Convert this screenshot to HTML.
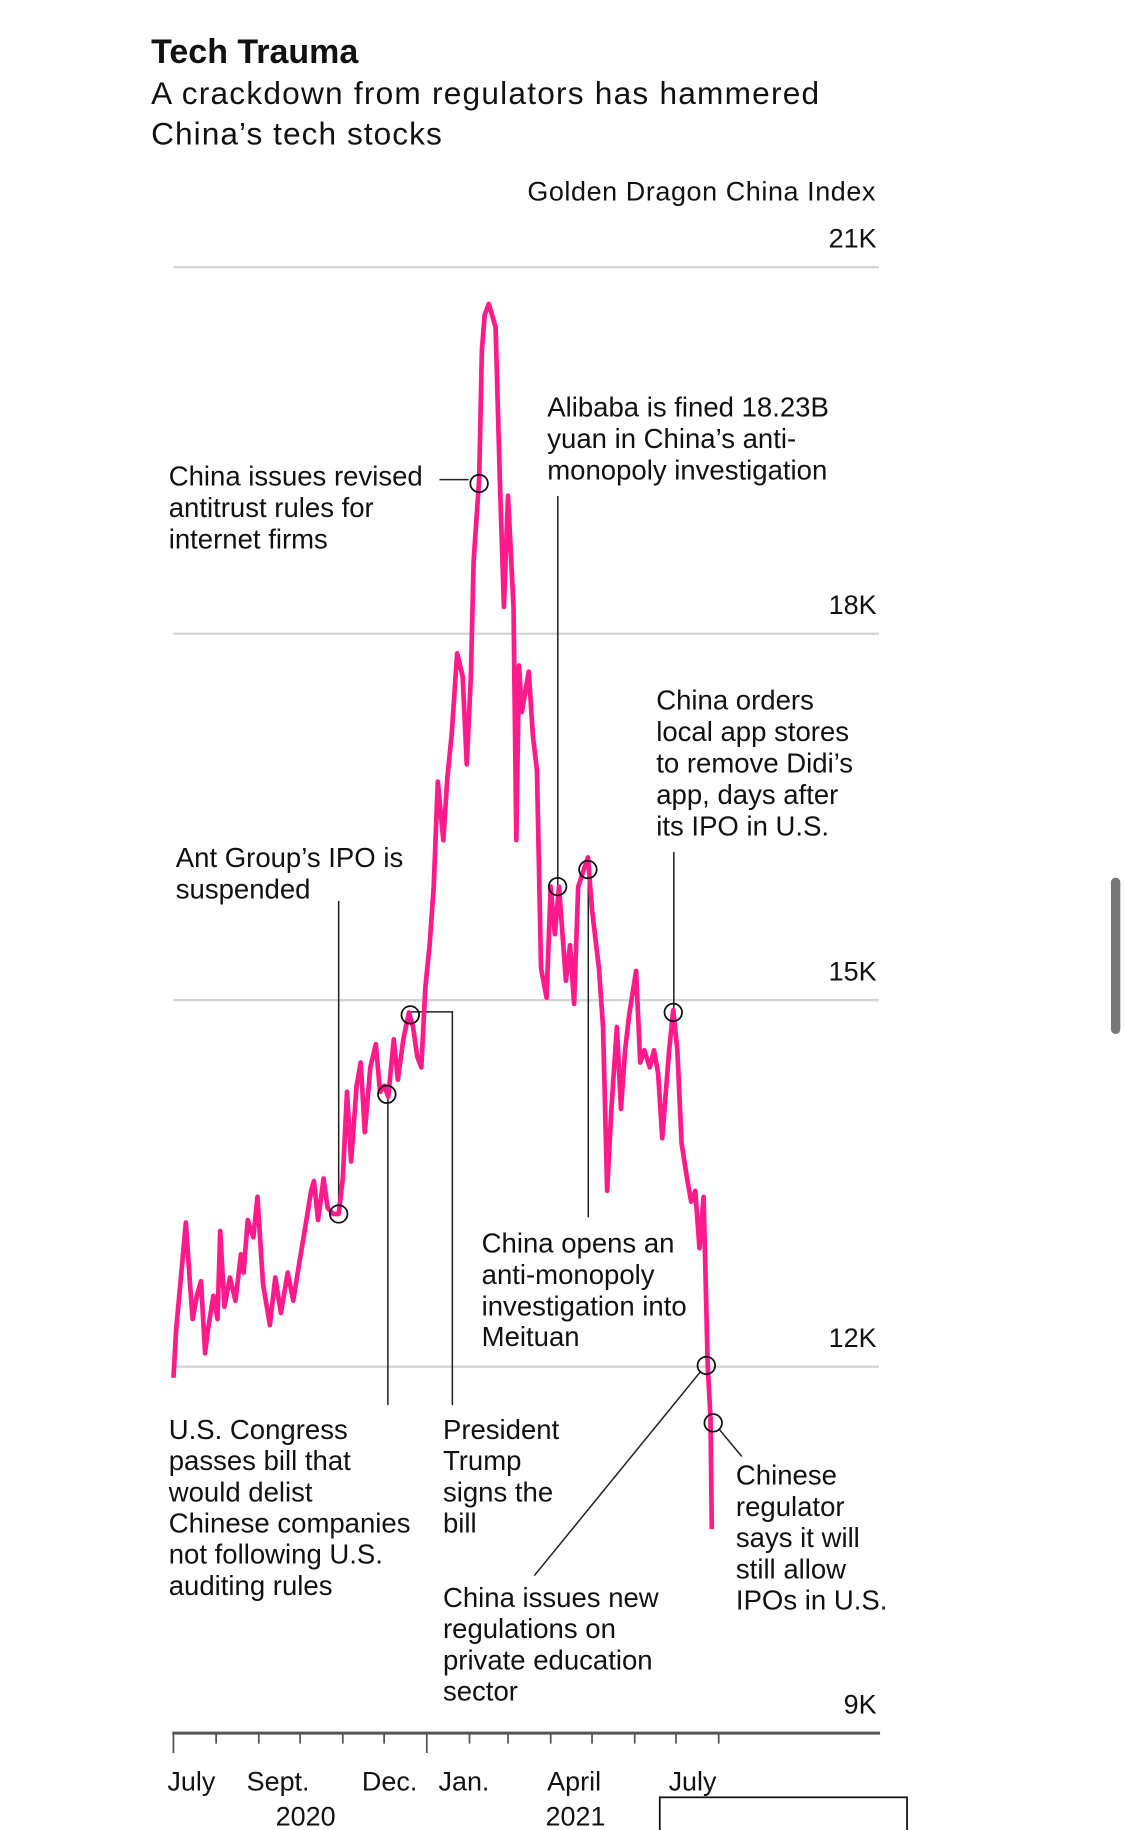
<!DOCTYPE html>
<html><head><meta charset="utf-8"><style>
html,body{margin:0;padding:0;background:#fff;}
svg{display:block;}
text{font-family:"Liberation Sans",Arial,sans-serif;fill:#111;}
.a{font-size:23.5px;}
</style></head><body>
<svg id="chart" width="1125" height="1830" viewBox="0 0 960 1568" preserveAspectRatio="none" xmlns="http://www.w3.org/2000/svg">
<text x="129" y="54" style="font-size:29px;font-weight:bold">Tech Trauma</text>
<text x="129" y="89" style="font-size:27px" textLength="570">A crackdown from regulators has hammered</text>
<text x="129" y="124" style="font-size:27px" textLength="248">China’s tech stocks</text>
<text x="747" y="172" text-anchor="end" style="font-size:23px" textLength="297">Golden Dragon China Index</text>
<g id="grid"></g>
<g id="ann" stroke="#222" stroke-width="1.3" fill="none">
<line x1="289" y1="772" x2="289" y2="1040"/>
<line x1="331" y1="934" x2="331" y2="1204"/>
<polyline points="350,867 386,867 386,1204"/>
<line x1="375" y1="411" x2="400" y2="411"/>
<line x1="476" y1="425" x2="476" y2="760"/>
<line x1="502" y1="745" x2="502" y2="1043"/>
<line x1="575" y1="730" x2="575" y2="864"/>
<line x1="598" y1="1175" x2="456" y2="1350"/>
<line x1="614" y1="1225" x2="633" y2="1248"/>
</g>
<g id="series"></g>
<g id="markers"></g>
<g class="a">
<text x="144" y="416">China issues revised<tspan x="144" dy="27">antitrust rules for</tspan><tspan x="144" dy="27">internet firms</tspan></text>
<text x="467" y="357">Alibaba is fined 18.23B<tspan x="467" dy="27">yuan in China’s anti-</tspan><tspan x="467" dy="27">monopoly investigation</tspan></text>
<text x="560" y="608">China orders<tspan x="560" dy="27">local app stores</tspan><tspan x="560" dy="27">to remove Didi’s</tspan><tspan x="560" dy="27">app, days after</tspan><tspan x="560" dy="27">its IPO in U.S.</tspan></text>
<text x="150" y="743">Ant Group’s IPO is<tspan x="150" dy="27">suspended</tspan></text>
<text x="411" y="1073">China opens an<tspan x="411" dy="27">anti-monopoly</tspan><tspan x="411" dy="27">investigation into</tspan><tspan x="411" dy="26.5">Meituan</tspan></text>
<text x="144" y="1233">U.S. Congress<tspan x="144" dy="26.7">passes bill that</tspan><tspan x="144" dy="26.7">would delist</tspan><tspan x="144" dy="26.7">Chinese companies</tspan><tspan x="144" dy="26.7">not following U.S.</tspan><tspan x="144" dy="26.7">auditing rules</tspan></text>
<text x="378" y="1233">President<tspan x="378" dy="26.7">Trump</tspan><tspan x="378" dy="26.7">signs the</tspan><tspan x="378" dy="26.7">bill</tspan></text>
<text x="378" y="1377">China issues new<tspan x="378" dy="26.7">regulations on</tspan><tspan x="378" dy="26.7">private education</tspan><tspan x="378" dy="26.7">sector</tspan></text>
<text x="628" y="1272">Chinese<tspan x="628" dy="26.8">regulator</tspan><tspan x="628" dy="26.8">says it will</tspan><tspan x="628" dy="26.8">still allow</tspan><tspan x="628" dy="26.8">IPOs in U.S.</tspan></text>
</g>
<g id="xaxis"></g>
<rect x="563" y="1540" width="211" height="40" fill="#fff" stroke="#111" stroke-width="1.5"/>
<rect x="948" y="752" width="8" height="134" rx="4" fill="#777"/>
</svg>
<script>
const yTicks=[21,18,15,12,9];
const yTickLabels=["21K","18K","15K","12K","9K"];
const days=[0,2,5,9,12,14,17,20,23,25,29,32,34,37,41,45,49,51,54,58,61,65,70,74,78,83,87,91,96,100,102,105,109,112,116,120,123,126,129,133,136,139,143,147,150,153,156,160,163,167,171,174,177,180,183,186,189,192,196,199,202,206,210,213,216,218,222,224,226,229,234,237,240,243,247,249,251,253,258,261,264,267,271,274,277,280,285,288,291,294,298,301,304,309,312,315,318,322,325,328,331,336,339,342,346,349,352,355,360,363,366,369,373,376,379,382,385,387,388,390,391];
const values=[11.91,12.30,12.68,13.18,12.68,12.39,12.58,12.70,12.11,12.30,12.58,12.39,13.11,12.49,12.73,12.54,12.92,12.77,13.20,13.06,13.39,12.68,12.34,12.73,12.44,12.77,12.54,12.82,13.16,13.44,13.52,13.20,13.54,13.30,13.25,13.25,13.54,14.25,13.68,14.30,14.49,13.92,14.45,14.64,14.25,14.30,14.21,14.68,14.35,14.68,14.90,14.78,14.54,14.45,15.11,15.45,15.93,16.79,16.31,16.83,17.17,17.84,17.65,16.93,17.65,18.60,19.27,20.32,20.61,20.70,20.51,19.27,18.22,19.13,18.22,16.31,17.74,17.36,17.69,17.17,16.88,15.26,15.02,15.93,15.54,15.93,15.16,15.45,14.97,15.93,16.07,16.17,15.74,15.26,14.78,13.44,14.11,14.78,14.11,14.59,14.88,15.24,14.49,14.59,14.45,14.59,14.40,13.87,14.59,14.92,14.59,13.83,13.54,13.35,13.44,12.97,13.39,12.49,12.01,11.58,10.67];
const eventDays=[120,155,172,222,279,301,363,387,392];
const eventValues=[13.25,14.23,14.88,19.23,15.93,16.07,14.90,12.01,11.54];
const monthTicks=[0,31,62,92,123,153,184,215,243,274,304,335,365,396];
const longTicks=[0,184];
const xLabels=["July","Sept.","Dec.","Jan.","April","July"];
const xLabelDays=[13,76,157,211,291,377];
const yearLabels=["2020","2021"];
const yearDays=[96,292];
const NS="http://www.w3.org/2000/svg";
function x(d){return 148+d*1.175;}
function y(v){return 229+(21-v)*104.67;}
function mk(tag,attrs,parent){const e=document.createElementNS(NS,tag);for(const k in attrs)e.setAttribute(k,attrs[k]);parent.appendChild(e);return e;}
const grid=document.getElementById('grid');
yTicks.forEach((t,i)=>{
  if(t>9){const l=mk('line',{x1:148,x2:750,y1:y(t),y2:y(t),stroke:'#d4d4d4','stroke-width':2},grid);
  
  }
  const tx=mk('text',{x:748,y:y(t)-17,'text-anchor':'end','font-size':'23'},grid);
  
  
  tx.textContent=yTickLabels[i];
});
const pts=days.map((d,i)=>x(d).toFixed(1)+','+y(values[i]).toFixed(1)).join(' ');
const line=mk('polyline',{points:pts,fill:'none',stroke:'#ff1a8c','stroke-width':4,'stroke-linejoin':'round'},document.getElementById('series'));


const mg=document.getElementById('markers');
eventDays.forEach((d,i)=>{
  const c=mk('circle',{cx:x(d),cy:y(eventValues[i]),r:7.5,fill:'none',stroke:'#111','stroke-width':1.5},mg);
  
  
});
const xa=document.getElementById('xaxis');
const ax=mk('line',{x1:147,x2:751,y1:1485,y2:1485,stroke:'#555','stroke-width':2.5},xa);


monthTicks.forEach(d=>{
  const t=mk('line',{x1:x(d),x2:x(d),y1:1485,y2:longTicks.includes(d)?1502:1494,stroke:'#555','stroke-width':1.5},xa);
  
  
});
xLabels.forEach((s,i)=>{
  const t=mk('text',{x:x(xLabelDays[i]),y:1534,'text-anchor':'middle','font-size':'23'},xa);
  
  
  t.textContent=s;
});
yearLabels.forEach((s,i)=>{
  const t=mk('text',{x:x(yearDays[i]),y:1564,'text-anchor':'middle','font-size':'23'},xa);
  
  
  t.textContent=s;
});
</script>
</body></html>
